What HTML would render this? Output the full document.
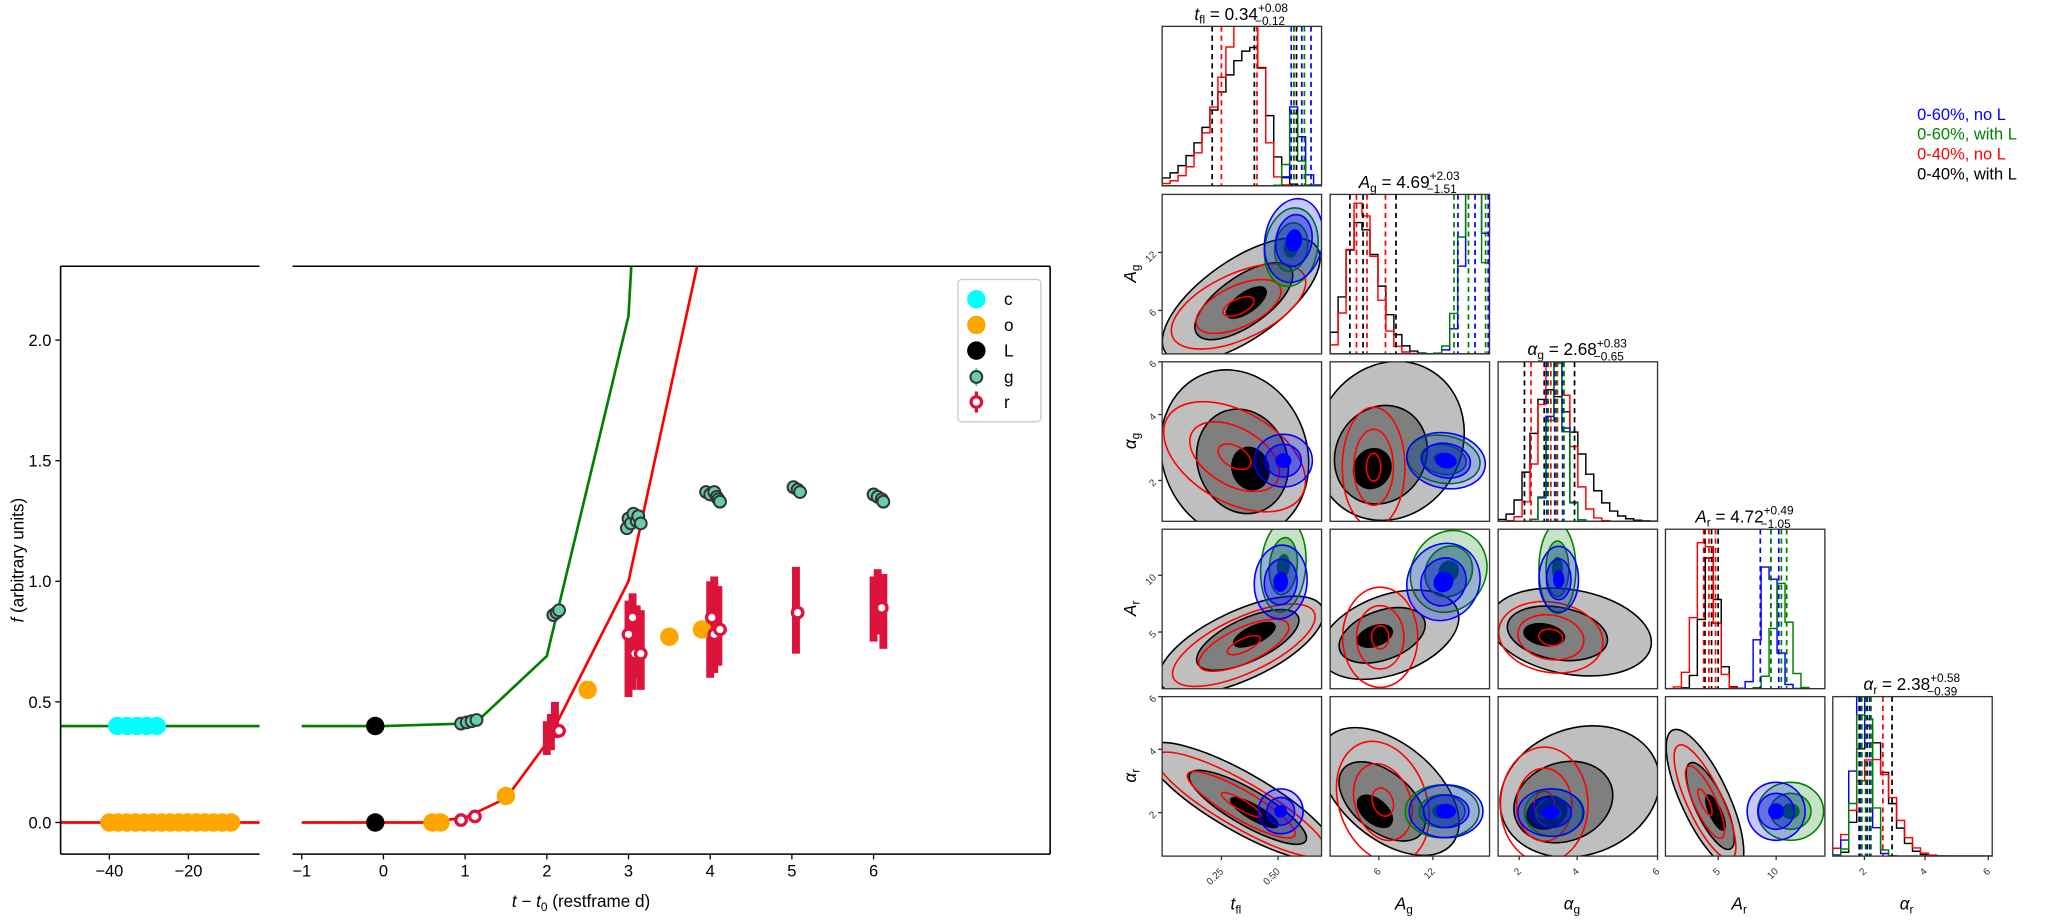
<!DOCTYPE html>
<html><head><meta charset="utf-8"><style>
html,body{margin:0;padding:0;background:#fff;}
svg{display:block;font-family:"Liberation Sans","DejaVu Sans",sans-serif;}
</style></head><body>
<svg id="s" width="2066" height="924" viewBox="0 0 1568 701" preserveAspectRatio="none" xmlns="http://www.w3.org/2000/svg">
<rect width="1568" height="701" fill="#fff"/>
<g id="left"></g>
<g id="corner"></g>
<g font-size="12.5">
<text x="1455" y="91" fill="#0000ff">0-60%, no L</text>
<text x="1455" y="106" fill="#008000">0-60%, with L</text>
<text x="1455" y="121" fill="#ff0000">0-40%, no L</text>
<text x="1455" y="136" fill="#000">0-40%, with L</text>
</g>
</svg>
<script>
let L="";
const yf=f=>624-183*f, xr=t=>291+62*t, xl=t=>83+3*(t+40);
const T=202,B=648;
L+=`<defs><clipPath id="cl"><rect x="46" y="${T}" width="151" height="${B-T}"/></clipPath><clipPath id="cr"><rect x="222" y="${T}" width="575" height="${B-T}"/></clipPath></defs>`;
L+=`<g clip-path="url(#cl)"><line x1="40" x2="200" y1="${yf(0.4)}" y2="${yf(0.4)}" stroke="#008000" stroke-width="2"/><line x1="40" x2="200" y1="${yf(0)}" y2="${yf(0)}" stroke="#ff0000" stroke-width="2"/>`;
for(let t=-38;t<=-27;t+=2.5)L+=`<circle cx="${xl(t)}" cy="${yf(0.4)}" r="7" fill="#00ffff"/>`;
for(let t=-40;t<=-7;t+=2.2)L+=`<circle cx="${xl(t)}" cy="${yf(0)}" r="7" fill="#ffa500"/>`;
L+=`</g><g clip-path="url(#cr)">`;
const g=[[-1,0.4],[0,0.4],[1,0.41],[1.15,0.42],[2,0.69],[3,2.1],[3.05,2.4]];
const r=[[-1,0],[0.5,0],[1,0.02],[1.5,0.1],[2,0.33],[3,1.0],[3.9,2.4]];
L+=`<polyline fill="none" stroke="#008000" stroke-width="2" points="${g.map(p=>xr(p[0])+','+yf(p[1])).join(' ')}"/>`;
L+=`<polyline fill="none" stroke="#ff0000" stroke-width="2" points="${r.map(p=>xr(p[0])+','+yf(p[1])).join(' ')}"/>`;
const eb=[[2,0.28,0.42],[2.05,0.3,0.45],[2.1,0.35,0.5],[3,0.52,0.92],[3.05,0.55,0.95],[3.1,0.6,0.9],[3.15,0.55,0.88],[4,0.6,1.0],[4.05,0.62,1.02],[4.1,0.65,0.98],[5.05,0.7,1.06],[6,0.75,1.02],[6.05,0.78,1.05],[6.12,0.72,1.03]];
eb.forEach(e=>L+=`<rect x="${xr(e[0])-3}" y="${yf(e[2])}" width="6" height="${yf(e[1])-yf(e[2])}" fill="#dc143c"/>`);
L+=`<circle cx="${xr(-0.1)}" cy="${yf(0.4)}" r="7" fill="#000"/><circle cx="${xr(-0.1)}" cy="${yf(0)}" r="7" fill="#000"/>`;
[[0.6,0],[0.7,0],[1.5,0.11],[2.5,0.55],[3.5,0.77],[3.9,0.8]].forEach(p=>L+=`<circle cx="${xr(p[0])}" cy="${yf(p[1])}" r="7" fill="#ffa500"/>`);
const gp=[[0.95,0.41],[1.02,0.415],[1.08,0.42],[1.14,0.425],[2.08,0.86],[2.12,0.87],[2.15,0.88],[2.98,1.22],[3.0,1.26],[3.03,1.24],[3.06,1.28],[3.1,1.25],[3.12,1.27],[3.15,1.24],[3.95,1.37],[4.0,1.36],[4.05,1.37],[4.08,1.35],[4.1,1.34],[4.12,1.33],[5.02,1.39],[5.07,1.38],[5.1,1.37],[6.0,1.36],[6.05,1.35],[6.1,1.34],[6.12,1.33]];
gp.forEach(p=>L+=`<circle cx="${xr(p[0])}" cy="${yf(p[1])}" r="4.5" fill="#66cdaa" stroke="#333" stroke-width="1.5"/>`);
const rp=[[0.95,0.01],[1.12,0.025],[2.15,0.38],[3.0,0.78],[3.08,0.7],[3.15,0.7],[3.05,0.85],[4.02,0.85],[4.05,0.78],[4.12,0.8],[5.07,0.87],[6.1,0.89]];
rp.forEach(p=>L+=`<circle cx="${xr(p[0])}" cy="${yf(p[1])}" r="4" fill="#fff" stroke="#dc143c" stroke-width="2.5"/>`);
L+=`</g>`;
L+=`<g stroke="#000" stroke-width="1.2" fill="none"><line x1="46" y1="${T}" x2="46" y2="${B}"/><line x1="46" y1="${T}" x2="197" y2="${T}"/><line x1="46" y1="${B}" x2="197" y2="${B}"/><line x1="222" y1="${T}" x2="797" y2="${T}"/><line x1="222" y1="${B}" x2="797" y2="${B}"/><line x1="797" y1="${T}" x2="797" y2="${B}"/></g>`;
[0,0.5,1,1.5,2].forEach(v=>{L+=`<line x1="42" x2="46" y1="${yf(v)}" y2="${yf(v)}" stroke="#000"/><text x="39" y="${yf(v)+4.5}" font-size="12.5" text-anchor="end">${v.toFixed(1)}</text>`});
[[-40,'−40'],[-20,'−20']].forEach(p=>{L+=`<line x1="${xl(p[0])}" x2="${xl(p[0])}" y1="${B}" y2="${B+4}" stroke="#000"/><text x="${xl(p[0])}" y="${B+17}" font-size="12.5" text-anchor="middle">${p[1]}</text>`});
[-1,0,1,2,3,4,5,6].forEach(t=>{L+=`<line x1="${xr(t)}" x2="${xr(t)}" y1="${B}" y2="${B+4}" stroke="#000"/><text x="${xr(t)}" y="${B+17}" font-size="12.5" text-anchor="middle">${t<0?'−1':t}</text>`});
L+=`<text x="441" y="688" font-size="13" text-anchor="middle"><tspan font-style="italic">t</tspan> − <tspan font-style="italic">t</tspan><tspan font-size="9" dy="3">0</tspan><tspan dy="-3"> (restframe d)</tspan></text>`;
L+=`<text transform="translate(18,425) rotate(-90)" font-size="13" text-anchor="middle"><tspan font-style="italic">f</tspan> (arbitrary units)</text>`;
L+=`<rect x="727" y="212" width="63" height="108" rx="3" fill="#fff" stroke="#ccc"/>`;
const lg=[['c','#00ffff'],['o','#ffa500'],['L','#000']];
lg.forEach((e,i)=>{const y=227+i*19.5;L+=`<circle cx="741" cy="${y}" r="7" fill="${e[1]}"/><text x="762" y="${y+4.5}" font-size="13">${e[0]}</text>`});
L+=`<line x1="741" x2="741" y1="279" y2="293" stroke="#66cdaa" stroke-width="1.5"/><circle cx="741" cy="286" r="4.5" fill="#66cdaa" stroke="#333" stroke-width="1.5"/><text x="762" y="290.5" font-size="13">g</text>`;
L+=`<line x1="741" x2="741" y1="297" y2="313" stroke="#dc143c" stroke-width="2.5"/><circle cx="741" cy="305" r="4" fill="#fff" stroke="#dc143c" stroke-width="2.5"/><text x="762" y="309.5" font-size="13">r</text>`;
document.getElementById('left').innerHTML=L;

const CX=[882,1009.5,1137,1264,1391], RY=[20,147.5,274.5,401.5,528.5], W=121;
let C="<defs>";
for(let i=0;i<5;i++)for(let j=0;j<=i;j++)C+=`<clipPath id="p${i}${j}"><rect x="${CX[j]}" y="${RY[i]}" width="${W}" height="${W}"/></clipPath>`;
C+="</defs>";
function ell(cx,cy,rx,ry,rot,s,fill,stroke){return `<ellipse cx="${cx}" cy="${cy}" rx="${rx*s}" ry="${ry*s}" transform="rotate(${rot} ${cx} ${cy})" fill="${fill}" stroke="${stroke}" stroke-width="1.2"/>`}
function gray(cx,cy,rx,ry,rot,kx,ky){let s=ell(cx,cy,rx,ry,rot,1,'#bfbfbf','#000');s+=ell((cx+kx)/2,(cy+ky)/2,rx,ry,rot,0.62,'#7f7f7f','#000');s+=ell(kx,ky,rx,ry,rot,0.25,'#000','#000');return s}
function red(cx,cy,rx,ry,rot){return ell(cx,cy,rx,ry,rot,0.95,'none','#ff0000')+ell(cx,cy,rx,ry,rot,0.6,'none','#ff0000')+ell(cx,cy,rx,ry,rot,0.22,'none','#ff0000')}
function col(cx,cy,rx,ry,rot,c,a){return ell(cx,cy,rx,ry,rot,1,`rgba(${a},0.22)`,c)+ell(cx,cy,rx,ry,rot,0.62,`rgba(${a},0.35)`,c)+ell(cx,cy,rx,ry,rot,0.25,c,c)}
const P={
'10':[gray(60,80,70,30,-35,64,82),red(58,85,58,26,-25),col(98,40,20,30,10,'#008000','0,128,0'),col(100,35,22,32,10,'#0000ff','0,0,255')],
'20':[gray(55,70,55,65,-20,67,81),red(55,72,62,36,30),col(92,75,22,20,0,'#0000ff','0,0,255')],
'21':[gray(45,60,55,62,30,32,81),red(33,80,25,48,0),col(86,74,28,18,10,'#008000','0,128,0'),col(88,75,30,21,10,'#0000ff','0,0,255')],
'30':[gray(60,88,68,26,-25,70,80),red(62,88,62,22,-25),col(92,28,17,35,5,'#008000','0,128,0'),col(90,40,20,28,5,'#0000ff','0,0,255')],
'31':[gray(45,80,55,30,-20,34,81),red(38,82,30,40,0),col(90,32,28,32,30,'#008000','0,128,0'),col(86,40,27,30,30,'#0000ff','0,0,255')],
'32':[gray(55,78,62,32,10,35,80),red(40,82,42,28,10),col(45,30,14,34,0,'#008000','0,128,0'),col(46,38,15,25,0,'#0000ff','0,0,255')],
'40':[gray(60,80,82,22,30,70,88),red(60,82,78,18,30),col(90,87,17,17,0,'#0000ff','0,0,255')],
'41':[gray(45,72,62,36,40,34,87),red(40,80,35,50,-20),col(85,87,28,20,0,'#008000','0,128,0'),col(88,87,28,20,0,'#0000ff','0,0,255')],
'42':[gray(62,72,62,48,-20,37,88),red(35,82,35,46,0),col(42,88,22,18,0,'#008000','0,128,0'),col(40,88,25,18,0,'#0000ff','0,0,255')],
'43':[gray(30,78,58,18,65,38,88),red(30,80,50,14,65),col(95,87,25,22,0,'#008000','0,128,0'),col(84,87,22,22,0,'#0000ff','0,0,255')]
};
for(const k in P){const i=+k[0],j=+k[1];C+=`<g clip-path="url(#p${i}${j})"><g transform="translate(${CX[j]},${RY[i]})">${P[k].join('')}</g></g>`;}
function hist(c,sL,sR,pk,color){let d="M0,121";for(let b=0;b<20;b++){const x0=b*6.05,xm=x0+3;const s=xm<c?sL:sR;const v=pk*Math.exp(-0.5*((xm-c)/s)**2);d+=` L${x0},${121-v} L${x0+6.05},${121-v}`;}d+=" L121,121";return `<path d="${d}" fill="none" stroke="${color}" stroke-width="1.1"/>`}
function dash(xs,color){return xs.map(x=>`<line x1="${x}" x2="${x}" y1="0" y2="121" stroke="${color}" stroke-width="1.3" stroke-dasharray="4,3"/>`).join('')}
const H=[
[hist(70,28,10,105,'#000'),hist(68,22,8,140,'#ff0000'),hist(100,3,6,60,'#0000ff'),hist(100,4,4,55,'#008000'),dash([38,70,102],'#000'),dash([45,72,100],'#ff0000'),dash([98,106,113],'#0000ff'),dash([100,108],'#008000')],
[hist(22,10,15,100,'#000'),hist(22,8,12,115,'#ff0000'),hist(110,8,8,150,'#0000ff'),hist(108,8,8,150,'#008000'),dash([15,25,50],'#000'),dash([20,28,42],'#ff0000'),dash([94,105,118],'#008000'),dash([97,110,120],'#0000ff')],
[hist(38,12,22,100,'#000'),hist(42,10,12,130,'#ff0000'),hist(45,6,6,125,'#0000ff'),hist(45,6,6,120,'#008000'),dash([20,35,58],'#000'),dash([25,40,45],'#ff0000'),dash([37,43,49],'#0000ff'),dash([38,44,50],'#008000')],
[hist(34,6,6,100,'#000'),hist(30,7,7,120,'#ff0000'),hist(78,6,6,100,'#0000ff'),hist(88,6,6,80,'#008000'),dash([30,35,40],'#000'),dash([29,33,38],'#ff0000'),dash([72,80,86],'#0000ff'),dash([80,88,92],'#008000')],
[hist(25,6,15,100,'#000'),hist(30,12,15,75,'#ff0000'),hist(22,6,6,125,'#0000ff'),hist(24,6,6,120,'#008000'),dash([20,26,45],'#000'),dash([22,28,38],'#ff0000'),dash([21,25,28],'#0000ff'),dash([22,25,29],'#008000')]
];
H.forEach((h,i)=>{C+=`<g clip-path="url(#p${i}${i})"><g transform="translate(${CX[i]},${RY[i]})">${h.join('')}</g></g>`;});
for(let i=0;i<5;i++)for(let j=0;j<=i;j++)C+=`<rect x="${CX[j]}" y="${RY[i]}" width="${W}" height="${W}" fill="none" stroke="#333" stroke-width="1"/>`;
const tt=[['t','fl','0.34','0.08','0.12'],['A','g','4.69','2.03','1.51'],['α','g','2.68','0.83','0.65'],['A','r','4.72','0.49','1.05'],['α','r','2.38','0.58','0.39']];
tt.forEach((t,i)=>{const x=CX[i]+60,y=RY[i]-5;C+=`<text x="${x}" y="${y}" font-size="13" text-anchor="middle"><tspan font-style="italic">${t[0]}</tspan><tspan font-size="9" dy="3">${t[1]}</tspan><tspan dy="-3"> = ${t[2]}</tspan><tspan font-size="9" dy="-6">+${t[3]}</tspan><tspan font-size="9" dx="-25" dy="10">−${t[4]}</tspan></text>`;});
function tl(x,y,s,anchor){return `<text x="${x}" y="${y}" font-size="7.5" fill="#333" text-anchor="${anchor}" transform="rotate(-45 ${x} ${y})">${s}</text>`}
const BL=[[['0.25',45],['0.50',88]],[['6',37],['12',78]],[['2',16],['4',60],['6',121]],[['5',40],['10',84]],[['2',24],['4',70],['6',118]]];
BL.forEach((a,j)=>a.forEach(p=>{const x=CX[j]+p[1],y=RY[4]+W;C+=`<line x1="${x}" x2="${x}" y1="${y}" y2="${y+3}" stroke="#333"/>`+tl(x+2,y+12,p[0],'end');}));
const LL=[null,[['12',44],['6',88]],[['6',0],['4',40],['2',90]],[['10',35],['5',78]],[['6',0],['4',40],['2',88]]];
LL.forEach((a,i)=>{if(!a)return;a.forEach(p=>{const y=RY[i]+p[1],x=CX[0];C+=`<line x1="${x-3}" x2="${x}" y1="${y}" y2="${y}" stroke="#333"/>`+tl(x-4,y+2,p[0],'end');});});
const YL=[['A','g'],['α','g'],['A','r'],['α','r']];
YL.forEach((p,k)=>{const y=RY[k+1]+60;C+=`<text transform="translate(862,${y}) rotate(-90)" font-size="13" text-anchor="middle"><tspan font-style="italic">${p[0]}</tspan><tspan font-size="9" dy="3">${p[1]}</tspan></text>`;});
const XL=[['t','fl'],['A','g'],['α','g'],['A','r'],['α','r']];
XL.forEach((p,j)=>{C+=`<text x="${CX[j]+56}" y="690" font-size="13" text-anchor="middle"><tspan font-style="italic">${p[0]}</tspan><tspan font-size="9" dy="3">${p[1]}</tspan></text>`;});
document.getElementById('corner').innerHTML=C;
</script>
</body></html>
